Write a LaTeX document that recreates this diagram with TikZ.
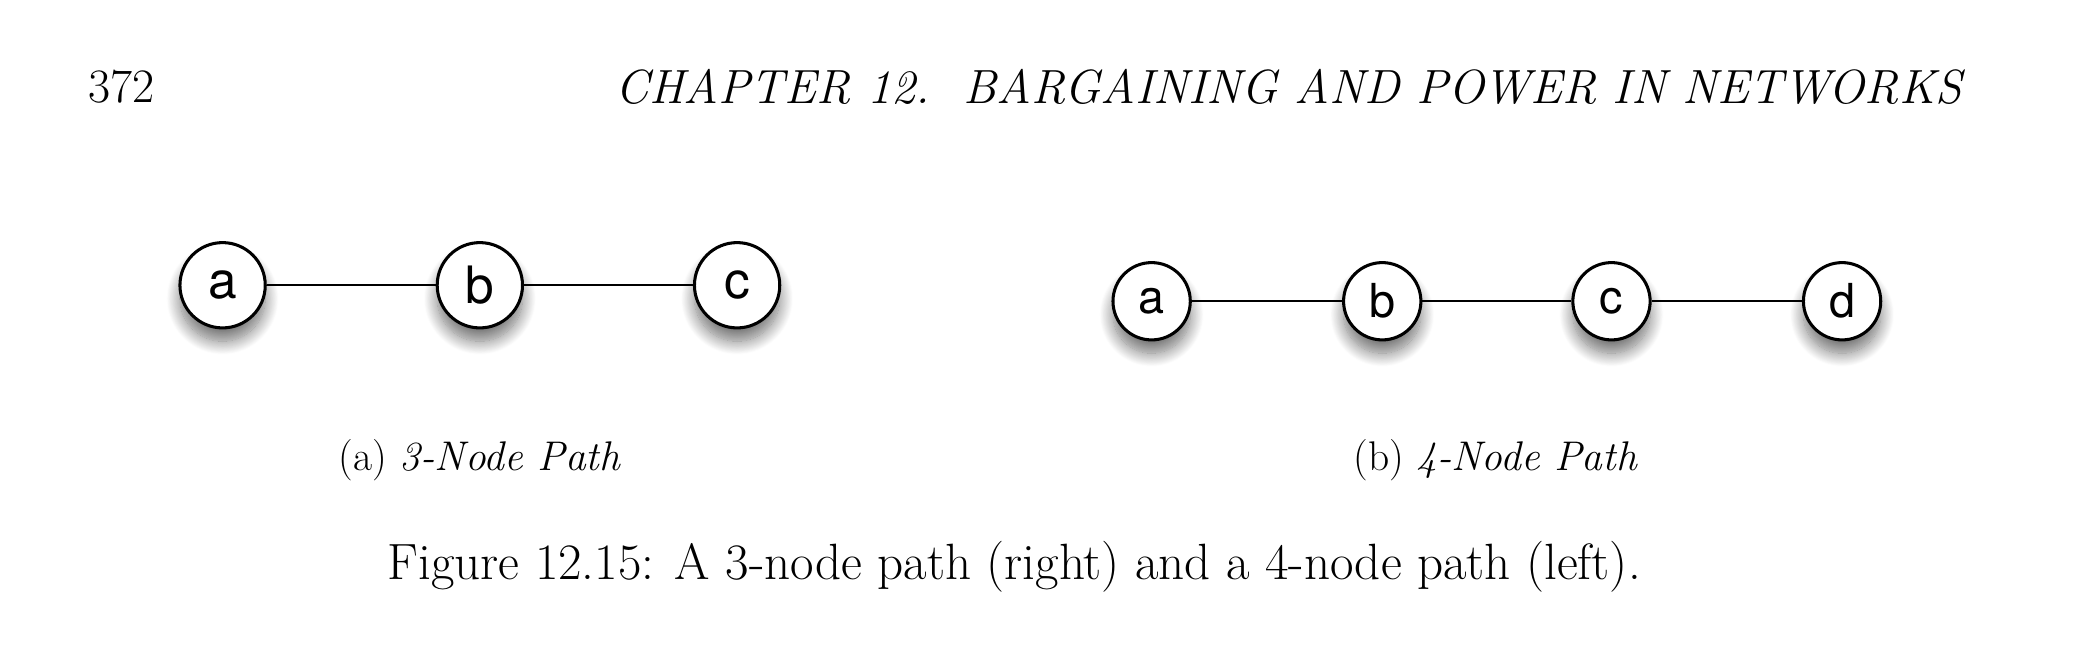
\documentclass[tikz,border=0pt]{standalone}
\usepackage{fontspec}
\newfontfamily\hv{TeX Gyre Heros}
\usetikzlibrary{shadows.blur}
\begin{document}
\begin{tikzpicture}[x=0.02cm,y=-0.02cm,
  big/.style={circle,draw,line width=1.3pt,fill=white,minimum size=64*0.02cm,inner sep=0pt,font=\hv\fontsize{22}{24}\selectfont,blur shadow={shadow xshift=0pt,shadow yshift=-10*0.02cm,shadow blur radius=10*0.02cm,shadow blur steps=16,shadow opacity=55}},
  small/.style={big,minimum size=58*0.02cm,font=\hv\fontsize{20}{22}\selectfont},
  edge/.style={line width=1pt},
  txt/.style={inner sep=0pt,font=\fontsize{20.5}{24}\selectfont}]
\useasboundingbox (0,0) rectangle (1568,485);
\node[txt,anchor=west] (pg) at (66,65) {372};
\node[txt,anchor=east] (hd) at (1472,65) {\itshape CHAPTER 12.\ \ BARGAINING AND POWER IN NETWORKS};
\node[big] (a1) at (167,214) {a};
\node[big] (b1) at (360,214) {b};
\node[big] (c1) at (553,214) {c};
\draw[edge] (a1) -- (b1) (b1) -- (c1);
\node[small] (a2) at (864,226) {a};
\node[small] (b2) at (1037,226) {b};
\node[small] (c2) at (1209,226) {c};
\node[small] (d2) at (1382,226) {d};
\draw[edge] (a2) -- (b2) (b2) -- (c2) (c2) -- (d2);
\node[txt,font=\fontsize{17.7}{21}\selectfont] (ca) at (360,345) {(a) \textit{3-Node Path}};
\node[txt,font=\fontsize{17.7}{21}\selectfont] (cb) at (1122,345) {(b) \textit{4-Node Path}};
\node[txt,font=\fontsize{21.8}{26}\selectfont] (fig) at (761,425) {Figure 12.15: A 3-node path (right) and a 4-node path (left).};
\end{tikzpicture}
\end{document}
